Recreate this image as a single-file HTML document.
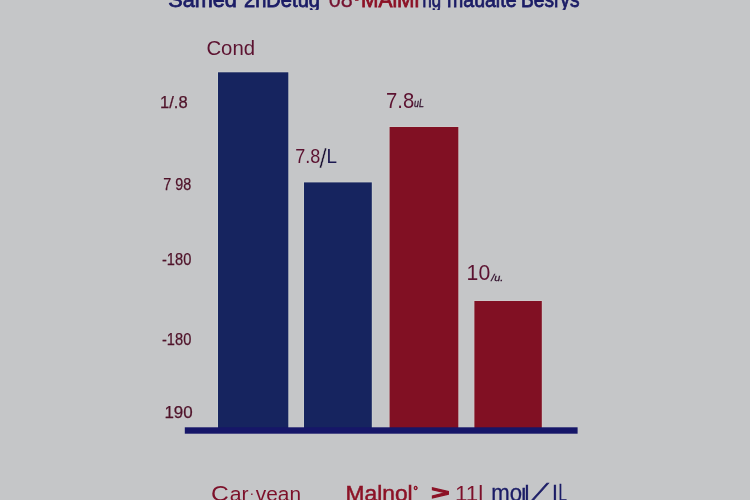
<!DOCTYPE html>
<html lang="en">
<head>
<meta charset="utf-8">
<title>Chart</title>
<style>
  html, body { margin: 0; padding: 0; width: 750px; height: 500px; overflow: hidden; background: #c5c6c8; }
  svg { display: block; position: absolute; left: 0; top: 0; }
  text { font-family: "Liberation Sans", sans-serif; }
  .ax { fill: #4f1229; stroke: #4f1229; stroke-width: 0.25; }
  .mar { fill: #5c1230; }
  .red { fill: #8c1226; }
  .blu { fill: #1b1c66; }
</style>
</head>
<body>
<svg width="750" height="500" viewBox="0 0 750 500">
  <defs><clipPath id="tclip"><rect x="0" y="0" width="750" height="10"/></clipPath></defs>
  <rect x="0" y="0" width="750" height="500" fill="#c5c6c8"/>

  <!-- bars -->
  <rect x="218" y="72.3" width="70.3" height="357" fill="#16245f" stroke="#c9cdcd" stroke-width="2" paint-order="stroke"/>
  <rect x="304" y="182.4" width="67.8" height="247" fill="#16245f" stroke="#c9cdcd" stroke-width="2" paint-order="stroke"/>
  <rect x="389.6" y="127" width="68.7" height="301" fill="#811023" stroke="#cdc9c9" stroke-width="2" paint-order="stroke"/>
  <rect x="474.4" y="301" width="67.4" height="127" fill="#811023" stroke="#cdc9c9" stroke-width="2" paint-order="stroke"/>
  <!-- baseline -->
  <rect x="184.8" y="427.3" width="392.8" height="6.4" fill="#161668"/>

  <!-- title (cropped at top) -->
  <g font-size="21.5" stroke-width="0.8" clip-path="url(#tclip)">
    <text class="blu" stroke="#1b1c66" x="168.3" y="7.3" textLength="68.5" lengthAdjust="spacingAndGlyphs">Samed</text>
    <text class="blu" stroke="#1b1c66" x="244" y="7.3" textLength="76" lengthAdjust="spacingAndGlyphs">2nDetug</text>
    <text fill="#751230" stroke="#751230" stroke-width="0.3" x="328.8" y="7.3" textLength="24" lengthAdjust="spacingAndGlyphs">08</text>
    <text class="red" stroke="#8c1226" x="354.8" y="4" font-size="16" textLength="4" lengthAdjust="spacingAndGlyphs">-</text>
    <text class="red" stroke="#8c1226" stroke-width="0.8" x="361" y="7.3" textLength="60.5" lengthAdjust="spacingAndGlyphs">MAlMr</text>
    <text class="blu" stroke="#1b1c66" x="422.6" y="7.3" textLength="18.5" lengthAdjust="spacingAndGlyphs">ng</text>
    <text class="blu" stroke="#1b1c66" x="447" y="7.3" textLength="69.5" lengthAdjust="spacingAndGlyphs">maualte</text>
    <text class="blu" stroke="#1b1c66" x="521" y="7.3" textLength="58.5" lengthAdjust="spacingAndGlyphs">Besrys</text>
  </g>

  <!-- legend-ish label -->
  <text class="mar" x="206.4" y="55.3" font-size="20" textLength="48.6" lengthAdjust="spacingAndGlyphs">Cond</text>

  <!-- axis labels -->
  <text class="ax" x="160" y="108.3" font-size="17" textLength="27.6" lengthAdjust="spacingAndGlyphs">1/.8</text>
  <text class="ax" x="163.3" y="190.3" font-size="17" textLength="28" lengthAdjust="spacingAndGlyphs">7 98</text>
  <text class="ax" x="162" y="265" font-size="17" textLength="29.3" lengthAdjust="spacingAndGlyphs">-180</text>
  <text class="ax" x="162" y="345" font-size="17" textLength="29.3" lengthAdjust="spacingAndGlyphs">-180</text>
  <text class="ax" x="164.4" y="418" font-size="17" textLength="28.3" lengthAdjust="spacingAndGlyphs">190</text>

  <!-- bar value labels -->
  <text class="mar" x="295.3" y="162.7" font-size="21" textLength="25" lengthAdjust="spacingAndGlyphs">7.8</text>
  <text fill="#1a1030" stroke="#c5c6c8" stroke-width="0.5" x="319.2" y="167.6" font-size="27.3">/</text>
  <text fill="#1c1850" x="326.6" y="162.7" font-size="21" textLength="10.5" lengthAdjust="spacingAndGlyphs">L</text>
  <text class="mar" x="386" y="107.7" font-size="22" textLength="28.2" lengthAdjust="spacingAndGlyphs">7.8</text>
  <text fill="#33122e" stroke="#33122e" stroke-width="0.3" x="414" y="107.4" font-size="10.5" font-style="italic" textLength="9.8" lengthAdjust="spacingAndGlyphs">uL</text>
  <text class="mar" x="466.6" y="280" font-size="22" textLength="23.6" lengthAdjust="spacingAndGlyphs">10</text>
  <text fill="#33122e" stroke="#33122e" stroke-width="0.3" x="491.2" y="280.9" font-size="9.5" font-style="italic" textLength="12" lengthAdjust="spacingAndGlyphs">/u.</text>

  <!-- bottom labels (cropped at bottom) -->
  <text fill="#7d102a" x="211" y="501.3" font-size="22.5" textLength="17.8" lengthAdjust="spacingAndGlyphs">C</text>
  <text fill="#7d102a" x="229.8" y="501.3" font-size="20.5" textLength="18.8" lengthAdjust="spacingAndGlyphs">ar</text>
  <text fill="#7d102a" x="249.5" y="498" font-size="14">·</text>
  <text fill="#7d102a" x="255.8" y="501.3" font-size="20.5" textLength="45.2" lengthAdjust="spacingAndGlyphs">vean</text>
  <text class="red" x="345.6" y="501.3" font-size="22.5" textLength="67" lengthAdjust="spacingAndGlyphs" stroke="#8c1226" stroke-width="0.5">Malnol</text>
  <text class="red" x="413.2" y="494.5" font-size="12" stroke="#8c1226" stroke-width="0.6">°</text>
  <text class="red" x="431.6" y="498.6" font-size="18" font-weight="bold" textLength="17.8" lengthAdjust="spacingAndGlyphs" stroke="#8c1226" stroke-width="1.1">&gt;</text>
  <text fill="#7d102a" x="455" y="501.3" font-size="22.5" textLength="28.2" lengthAdjust="spacingAndGlyphs">11l</text>
  <g class="blu" stroke="#1b1c66" stroke-width="0.3" font-size="23.5">
    <text x="491.3" y="501" textLength="30.8" lengthAdjust="spacingAndGlyphs">mo</text>
    <text x="520.6" y="501">ı</text>
    <text x="524.6" y="501" font-size="22">l</text>
    <text transform="translate(529.8,501.5) skewX(-32)" x="0" y="0" font-size="26" stroke-width="0.9">/</text>
    <text x="552.4" y="501" font-size="22">l</text>
    <text x="558.6" y="501" textLength="8.4" lengthAdjust="spacingAndGlyphs">L</text>
  </g>
</svg>
</body>
</html>
